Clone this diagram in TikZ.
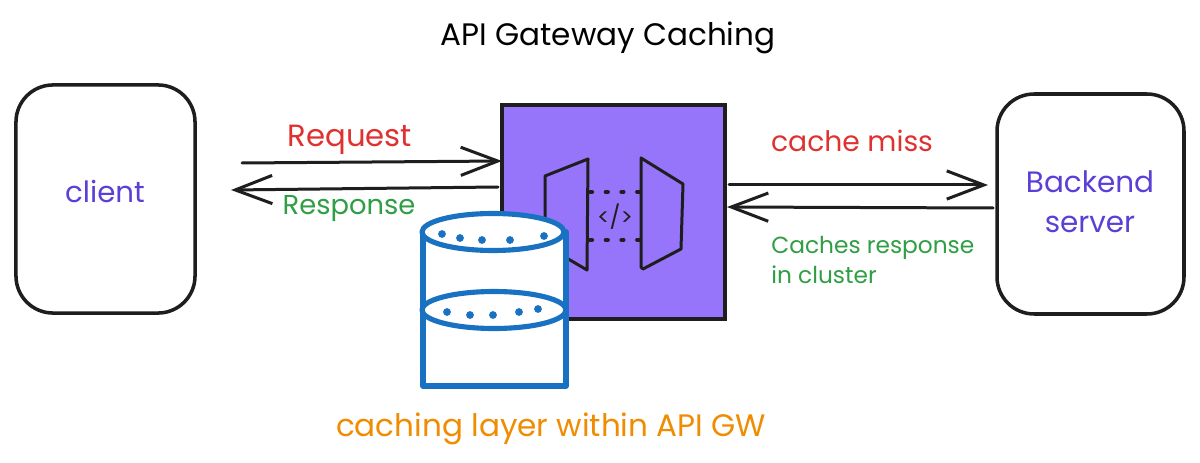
\documentclass[tikz,border=0pt]{standalone}
\usepackage{fontspec}
\setmainfont{Poppins}
\usetikzlibrary{arrows.meta}
\definecolor{gwpurple}{HTML}{9775FA}
\definecolor{cylblue}{HTML}{1971C2}
\definecolor{labred}{HTML}{E03131}
\definecolor{labgreen}{HTML}{2F9E44}
\definecolor{labviolet}{HTML}{5B3FD6}
\definecolor{laborange}{HTML}{F08C00}
\definecolor{ink}{HTML}{1E1E1E}
\tikzset{
  px/.style={x=0.5669pt,y=-0.5669pt},
  endbox/.style={draw=ink,line width=2pt,rounded corners=21pt,fill=white,inner sep=0pt},
  gwbox/.style={draw=ink,line width=2pt,fill=gwpurple,inner sep=0pt,minimum width=126.4pt,minimum height=121.3pt},
  flow/.style={draw=ink,line width=1.7pt,line cap=round,-{Straight Barb[length=21pt,width=16pt,line width=1.7pt]}},
  icon/.style={draw=ink,line width=1.7pt,line cap=round,line join=round},
  dots/.style={draw=ink,line width=2.3pt,line cap=round,dash pattern=on 1.2pt off 7.7pt},
  cyl/.style={draw=cylblue,line width=2.9pt,line join=round,fill=white},
  dotc/.style={fill=cylblue,draw=none,circle,minimum size=4.4pt,inner sep=0pt},
  lab/.style={inner sep=0pt,anchor=center},
}
\begin{document}
\begin{tikzpicture}[px]
\useasboundingbox (0,0) rectangle (1200,463);
\fill[white] (0,0) rectangle (1200,463);

\node[lab,text=black,font=\fontsize{17.6pt}{21pt}\selectfont] (title) at (608,38) {API Gateway Caching};

% end boxes
\node[endbox,minimum width=101.5pt,minimum height=129.3pt] (client) at (105.5,199) {};
\node[lab,text=labviolet,font=\fontsize{16.6pt}{20pt}\selectfont] (clienttext) at (105,191) {client};
\node[endbox,minimum width=106pt,minimum height=124.7pt] (backend) at (1090.5,204) {};
\node[lab,text=labviolet,font=\fontsize{16.7pt}{22.7pt}\selectfont,align=center] (backendtext) at (1090,202) {Backend\\server};

% gateway
\node[gwbox] (gw) at (613.5,212) {};
\draw[icon] (545,176) -- (588,159) -- (587,270) -- (570,260) -- (545,246) -- cycle;
\draw[icon] (641,158) -- (683,184) -- (681,249) -- (643,269) -- (641,267) -- cycle;
\draw[dots] (590,192) -- (640,192);
\draw[dots] (590,240) -- (640,240);
\node[text=ink,inner sep=0pt,font=\fontsize{13pt}{15pt}\selectfont] (code) at (615,217) {</>};

% connectors
\coordinate (reqA) at (242,163);  \coordinate (reqB) at (502,161);
\coordinate (resA) at (498,187);  \coordinate (resB) at (231,190);
\coordinate (misA) at (729,185);  \coordinate (misB) at (988,185);
\coordinate (casA) at (993,208);  \coordinate (casB) at (727,207);
\draw[flow] (reqA) -- (reqB);
\draw[flow] (resA) -- (resB);
\draw[flow] (misA) -- (misB);
\draw[flow] (casA) -- (casB);

% labels
\node[lab,text=labred,font=\fontsize{17.4pt}{21pt}\selectfont] (request) at (350,140) {Request};
\node[lab,text=labgreen,font=\fontsize{15.5pt}{19pt}\selectfont] (response) at (349,209) {Response};
\node[lab,text=labred,font=\fontsize{16pt}{19pt}\selectfont] (miss) at (852,141) {cache miss};
\node[lab,text=labgreen,anchor=west,align=left,font=\fontsize{13.2pt}{17pt}\selectfont] (caches) at (771,260) {Caches response\\in cluster};

% cylinder
\draw[cyl] (423,232) -- (423,386) -- (566,386) -- (566,232) -- cycle;
\draw[cyl] (493,232) ellipse [x radius=71,y radius=18.5];
\draw[cyl] (494,310) ellipse [x radius=72,y radius=18.5];
\foreach \p/\q in {442/234,460/238,482/240,510/240,544/236,447/312,470/315,493/315,519/312,538/309}
  \node[dotc] at (\p,\q) {};
\node[lab,text=laborange,font=\fontsize{17.6pt}{21pt}\selectfont] (layer) at (551,429) {caching layer within API GW};
\end{tikzpicture}
\end{document}
